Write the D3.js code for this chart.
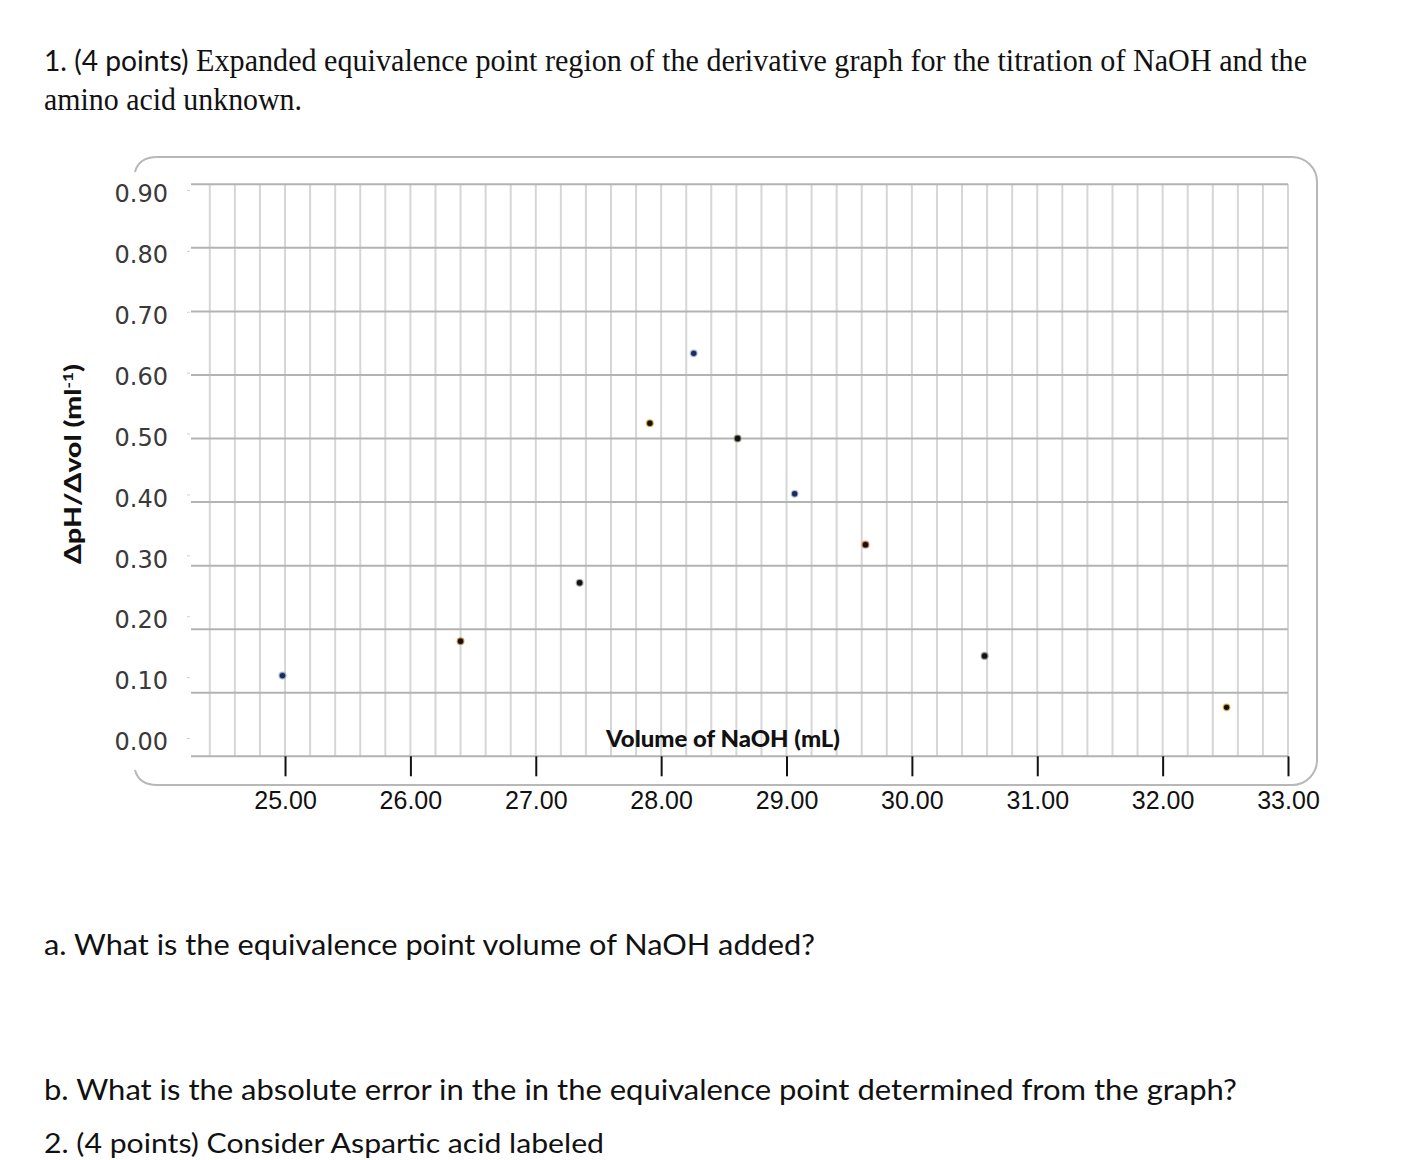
<!DOCTYPE html>
<html>
<head>
<meta charset="utf-8">
<script src="https://cdn.jsdelivr.net/npm/d3@7"></script>
<style>
  body { margin: 0; background: #fff; overflow: hidden; }
</style>
</head>
<body>
<div id="chart"></div>
<script>
// values
var volumes = [24.98, 26.40, 27.35, 27.91, 28.26, 28.61, 29.065, 29.63, 30.58, 32.51];
var slopes = [0.127, 0.181, 0.273, 0.524, 0.634, 0.500, 0.413, 0.333, 0.158, 0.077];
var xTicks = [25, 26, 27, 28, 29, 30, 31, 32, 33];
var yTicks = [0, 0.1, 0.2, 0.3, 0.4, 0.5, 0.6, 0.7, 0.8, 0.9];

// marker colours (fill / halo)
var dotFill = ["#1c2b57", "#111", "#111", "#111", "#1c2b57", "#111", "#1c2b57", "#111", "#111", "#111"];
var dotHalo = ["#9fb3d9", "#e59a4a", "#aaa", "#f1b54a", "#b9c8e6", "#8a9a7a", "#b9c8e6", "#e0805a", "#999", "#f2c55a"];

var svgWidth = 1404;
var svgHeight = 1160;

// plot area
var plot = { left: 191, right: 1288, top: 184.3, bottom: 756.3 };

var svg = d3.select("#chart")
  .append("svg")
  .attr("width", svgWidth)
  .attr("height", svgHeight)
  .style("background", "#fff");

var data = volumes.map(function (v, i) {
  return { vol: v, slope: slopes[i], fill: dotFill[i], halo: dotHalo[i] };
});

// scales
var x = d3.scaleLinear().domain([24.25, 33]).range([plot.left, plot.right]);
var y = d3.scaleLinear().domain([0, 0.9]).range([plot.bottom, plot.top]);
// the value labels sit on a slightly squeezed scale in the original
var yLab = d3.scaleLinear().domain([0, 0.9]).range([742, 194]);

// ---- question text above ----
var head = svg.append("text")
  .attr("x", 44)
  .attr("y", 71)
  .attr("fill", "#111")
  .attr("textLength", 1263)
  .attr("lengthAdjust", "spacingAndGlyphs");
head.append("tspan")
  .style("font-family", "Lato, 'Open Sans', sans-serif")
  .style("font-size", "29px")
  .text("1. (4 points)");
head.append("tspan")
  .style("font-family", "'Liberation Serif', 'DejaVu Serif', serif")
  .style("font-size", "31px")
  .text(" Expanded equivalence point region of the derivative graph for the titration of NaOH and the");

svg.append("text")
  .attr("x", 44)
  .attr("y", 110)
  .attr("fill", "#111")
  .attr("textLength", 258)
  .attr("lengthAdjust", "spacingAndGlyphs")
  .style("font-family", "'Liberation Serif', 'DejaVu Serif', serif")
  .style("font-size", "31px")
  .text("amino acid unknown.");

// ---- chart frame (left side is cut off in the screenshot) ----
var fr = { l: 135, r: 1317, t: 157, b: 785, rad: 25 };
var framePath = d3.path();
framePath.moveTo(fr.l, fr.t + 15);
framePath.quadraticCurveTo(fr.l + 4, fr.t, fr.l + 22, fr.t);
framePath.lineTo(fr.r - fr.rad, fr.t);
framePath.arcTo(fr.r, fr.t, fr.r, fr.t + fr.rad, fr.rad);
framePath.lineTo(fr.r, fr.b - fr.rad);
framePath.arcTo(fr.r, fr.b, fr.r - fr.rad, fr.b, fr.rad);
framePath.lineTo(fr.l + 22, fr.b);
framePath.quadraticCurveTo(fr.l + 4, fr.b, fr.l, fr.b - 15);
svg.append("path")
  .attr("d", framePath.toString())
  .attr("fill", "none")
  .attr("stroke", "#b8b8b8")
  .attr("stroke-width", 2);

// ---- gridlines ----
var minorX = d3.range(122, 166).map(function (d) { return d / 5; });

svg.append("g")
  .selectAll("line")
  .data(minorX)
  .enter()
  .append("line")
  .attr("x1", function (d) { return x(d); })
  .attr("x2", function (d) { return x(d); })
  .attr("y1", plot.top)
  .attr("y2", plot.bottom)
  .attr("stroke", "#d6d6d6")
  .attr("stroke-width", 2);

svg.append("g")
  .selectAll("line")
  .data(yTicks)
  .enter()
  .append("line")
  .attr("x1", plot.left)
  .attr("x2", plot.right)
  .attr("y1", function (d) { return y(d); })
  .attr("y2", function (d) { return y(d); })
  .attr("stroke", "#b3b3b3")
  .attr("stroke-width", 2);

// ---- y axis labels ----
var leftAxis = d3.axisLeft(yLab)
  .tickValues(yTicks)
  .tickFormat(d3.format(".2f"))
  .tickSize(3)
  .tickPadding(19);

var yAxisG = svg.append("g")
  .attr("transform", "translate(" + (plot.left - 1) + ",0)")
  .call(leftAxis);
yAxisG.select(".domain").remove();
yAxisG.selectAll(".tick line").attr("stroke", "#d0d0d0").attr("transform", "translate(0,-4)");
yAxisG.selectAll("text")
  .attr("fill", "#3a3a3a")
  .style("font-family", "'DejaVu Sans', Verdana, sans-serif")
  .style("font-size", "24px");

// ---- x axis ----
var bottomAxis = d3.axisBottom(x)
  .tickValues(xTicks)
  .tickFormat(d3.format(".2f"))
  .tickSize(20)
  .tickPadding(15);

var xAxisG = svg.append("g")
  .attr("transform", "translate(0," + plot.bottom + ")")
  .call(bottomAxis);
xAxisG.select(".domain").remove();
xAxisG.selectAll(".tick line").attr("stroke", "#111").attr("stroke-width", 2);
xAxisG.selectAll("text")
  .attr("fill", "#111")
  .style("font-family", "'Liberation Sans', Arial, sans-serif")
  .style("font-size", "25px");

// axis titles
svg.append("text")
  .attr("x", 606)
  .attr("y", 747)
  .attr("fill", "#111")
  .attr("textLength", 234)
  .attr("lengthAdjust", "spacingAndGlyphs")
  .style("font-family", "Lato, 'Open Sans', sans-serif")
  .style("font-weight", "900")
  .style("font-size", "23px")
  .text("Volume of NaOH (mL)");

var yTitle = svg.append("text")
  .attr("transform", "translate(81,464) rotate(-90)")
  .attr("text-anchor", "middle")
  .attr("fill", "#111")
  .attr("textLength", 200)
  .attr("lengthAdjust", "spacingAndGlyphs")
  .style("font-family", "Lato, 'Open Sans', sans-serif")
  .style("font-weight", "900")
  .style("font-size", "23px");
yTitle.append("tspan").text("ΔpH/Δvol (ml");
yTitle.append("tspan").attr("baseline-shift", "super").style("font-size", "14px").text("-1");
yTitle.append("tspan").text(")");

// ---- data points ----
svg.append("g")
  .selectAll("circle")
  .data(data)
  .enter()
  .append("circle")
  .attr("cx", function (d) { return x(d.vol); })
  .attr("cy", function (d) { return y(d.slope); })
  .attr("r", 3.4)
  .attr("fill", function (d) { return d.fill; })
  .attr("stroke", function (d) { return d.halo; })
  .attr("stroke-opacity", 0.75)
  .attr("stroke-width", 1.4);

// ---- questions below ----
var sans = "Lato, 'Open Sans', sans-serif";
svg.append("text")
  .attr("x", 44)
  .attr("y", 955)
  .attr("fill", "#111")
  .attr("textLength", 771)
  .attr("lengthAdjust", "spacingAndGlyphs")
  .style("font-family", sans)
  .style("font-size", "29px")
  .text("a.  What is the equivalence point volume of NaOH added?");

svg.append("text")
  .attr("x", 44)
  .attr("y", 1100)
  .attr("fill", "#111")
  .attr("textLength", 1193)
  .attr("lengthAdjust", "spacingAndGlyphs")
  .style("font-family", sans)
  .style("font-size", "29px")
  .text("b.  What is the absolute error in the in the equivalence point determined from the graph?");

// next question, at the very bottom of the page
svg.append("text")
  .attr("x", 44)
  .attr("y", 1153)
  .attr("fill", "#111")
  .attr("textLength", 560)
  .attr("lengthAdjust", "spacingAndGlyphs")
  .style("font-family", sans)
  .style("font-size", "27px")
  .text("2. (4 points) Consider Aspartic acid labeled");
</script>
</body>
</html>
